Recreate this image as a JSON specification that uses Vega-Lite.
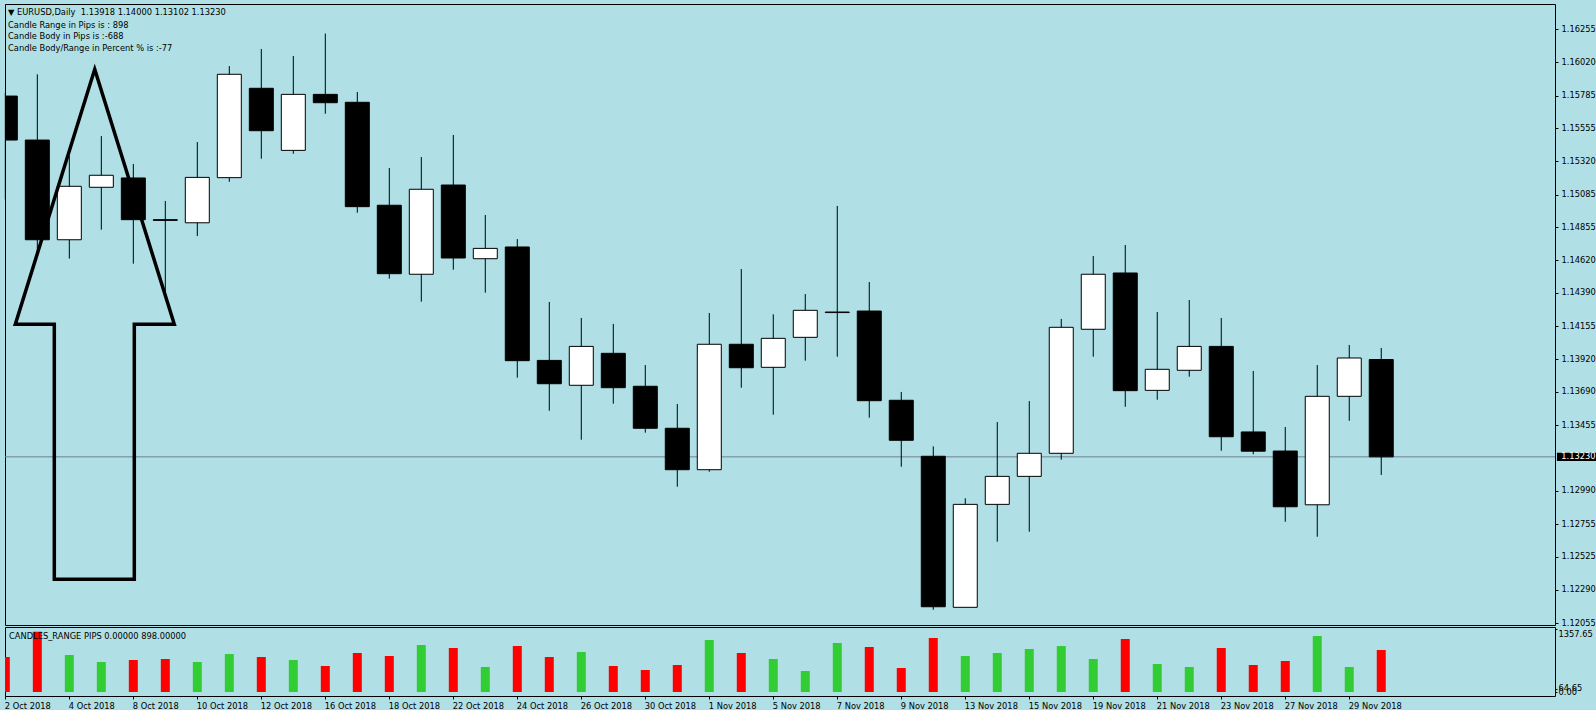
{
  "$schema": "https://vega.github.io/schema/vega-lite/v6.json",
  "background": "#B0E0E6",
  "padding": {"left": 3, "top": 3, "right": 0, "bottom": 0},
  "spacing": 2,
  "bounds": "flush",
  "resolve": {"scale": {"x": "independent", "y": "independent"}},
  "config": {
    "view": {"stroke": "#000000", "strokeWidth": 1},
    "font": "DejaVu Sans",
    "scale": {"continuousPadding": 0},
    "axis": {"labelFont": "DejaVu Sans", "labelFontSize": 8.3, "labelColor": "#000000", "tickColor": "#000000", "domain": false, "grid": false, "labelOverlap": false, "labelFlush": false, "labelBound": false},
    "title": {"font": "DejaVu Sans", "fontSize": 8.3, "fontWeight": "normal", "color": "#000000", "anchor": "start", "frame": "group", "subtitleFont": "DejaVu Sans", "subtitleFontSize": 8.3, "subtitleColor": "#000000"}
  },
  "datasets": {
    "candles": [
      {"d": "2 Oct 2018", "i": 0, "o": 1.15781, "h": 1.15806, "l": 1.15050, "c": 1.15470, "pips": 748},
      {"d": "3 Oct 2018", "i": 1, "o": 1.15470, "h": 1.15935, "l": 1.14650, "c": 1.14765, "pips": 1289},
      {"d": "4 Oct 2018", "i": 2, "o": 1.14765, "h": 1.15360, "l": 1.14632, "c": 1.15143, "pips": 791},
      {"d": "5 Oct 2018", "i": 3, "o": 1.15136, "h": 1.15498, "l": 1.14836, "c": 1.15221, "pips": 641},
      {"d": "8 Oct 2018", "i": 4, "o": 1.15202, "h": 1.15301, "l": 1.14596, "c": 1.14907, "pips": 684},
      {"d": "9 Oct 2018", "i": 5, "o": 1.14907, "h": 1.15039, "l": 1.14388, "c": 1.14902, "pips": 706},
      {"d": "10 Oct 2018", "i": 6, "o": 1.14885, "h": 1.15456, "l": 1.14791, "c": 1.15206, "pips": 641},
      {"d": "11 Oct 2018", "i": 7, "o": 1.15204, "h": 1.15993, "l": 1.15175, "c": 1.15935, "pips": 812},
      {"d": "12 Oct 2018", "i": 8, "o": 1.15836, "h": 1.16114, "l": 1.15338, "c": 1.15536, "pips": 748},
      {"d": "15 Oct 2018", "i": 9, "o": 1.15397, "h": 1.16064, "l": 1.15373, "c": 1.15793, "pips": 684},
      {"d": "16 Oct 2018", "i": 10, "o": 1.15793, "h": 1.16223, "l": 1.15656, "c": 1.15734, "pips": 556},
      {"d": "17 Oct 2018", "i": 11, "o": 1.15737, "h": 1.15810, "l": 1.14956, "c": 1.14999, "pips": 834},
      {"d": "18 Oct 2018", "i": 12, "o": 1.15009, "h": 1.15272, "l": 1.14490, "c": 1.14525, "pips": 770},
      {"d": "19 Oct 2018", "i": 13, "o": 1.14521, "h": 1.15350, "l": 1.14327, "c": 1.15122, "pips": 1005},
      {"d": "22 Oct 2018", "i": 14, "o": 1.15152, "h": 1.15506, "l": 1.14553, "c": 1.14636, "pips": 941},
      {"d": "23 Oct 2018", "i": 15, "o": 1.14631, "h": 1.14940, "l": 1.14391, "c": 1.14704, "pips": 535},
      {"d": "24 Oct 2018", "i": 16, "o": 1.14714, "h": 1.14770, "l": 1.13790, "c": 1.13910, "pips": 983},
      {"d": "25 Oct 2018", "i": 17, "o": 1.13912, "h": 1.14325, "l": 1.13556, "c": 1.13747, "pips": 748},
      {"d": "26 Oct 2018", "i": 18, "o": 1.13736, "h": 1.14212, "l": 1.13351, "c": 1.14011, "pips": 855},
      {"d": "29 Oct 2018", "i": 19, "o": 1.13962, "h": 1.14170, "l": 1.13606, "c": 1.13719, "pips": 556},
      {"d": "30 Oct 2018", "i": 20, "o": 1.13729, "h": 1.13879, "l": 1.13401, "c": 1.13432, "pips": 470},
      {"d": "31 Oct 2018", "i": 21, "o": 1.13432, "h": 1.13604, "l": 1.13019, "c": 1.13139, "pips": 577},
      {"d": "1 Nov 2018", "i": 22, "o": 1.13139, "h": 1.14247, "l": 1.13125, "c": 1.14026, "pips": 1112},
      {"d": "2 Nov 2018", "i": 23, "o": 1.14026, "h": 1.14558, "l": 1.13719, "c": 1.13860, "pips": 834},
      {"d": "5 Nov 2018", "i": 24, "o": 1.13863, "h": 1.14238, "l": 1.13528, "c": 1.14068, "pips": 706},
      {"d": "6 Nov 2018", "i": 25, "o": 1.14075, "h": 1.14381, "l": 1.13910, "c": 1.14266, "pips": 449},
      {"d": "7 Nov 2018", "i": 26, "o": 1.14250, "h": 1.15004, "l": 1.13938, "c": 1.14254, "pips": 1048},
      {"d": "8 Nov 2018", "i": 27, "o": 1.14261, "h": 1.14466, "l": 1.13507, "c": 1.13627, "pips": 962},
      {"d": "9 Nov 2018", "i": 28, "o": 1.13630, "h": 1.13689, "l": 1.13160, "c": 1.13347, "pips": 513},
      {"d": "12 Nov 2018", "i": 29, "o": 1.13234, "h": 1.13304, "l": 1.12149, "c": 1.12170, "pips": 1155},
      {"d": "13 Nov 2018", "i": 30, "o": 1.12166, "h": 1.12937, "l": 1.12164, "c": 1.12894, "pips": 770},
      {"d": "14 Nov 2018", "i": 31, "o": 1.12894, "h": 1.13476, "l": 1.12630, "c": 1.13092, "pips": 834},
      {"d": "15 Nov 2018", "i": 32, "o": 1.13092, "h": 1.13624, "l": 1.12701, "c": 1.13255, "pips": 919},
      {"d": "16 Nov 2018", "i": 33, "o": 1.13255, "h": 1.14205, "l": 1.13210, "c": 1.14146, "pips": 983},
      {"d": "19 Nov 2018", "i": 34, "o": 1.14132, "h": 1.14650, "l": 1.13938, "c": 1.14521, "pips": 706},
      {"d": "20 Nov 2018", "i": 35, "o": 1.14530, "h": 1.14728, "l": 1.13584, "c": 1.13698, "pips": 1133},
      {"d": "21 Nov 2018", "i": 36, "o": 1.13700, "h": 1.14254, "l": 1.13634, "c": 1.13849, "pips": 599},
      {"d": "22 Nov 2018", "i": 37, "o": 1.13842, "h": 1.14339, "l": 1.13797, "c": 1.14011, "pips": 535},
      {"d": "23 Nov 2018", "i": 38, "o": 1.14011, "h": 1.14212, "l": 1.13273, "c": 1.13372, "pips": 941},
      {"d": "26 Nov 2018", "i": 39, "o": 1.13406, "h": 1.13837, "l": 1.13248, "c": 1.13270, "pips": 577},
      {"d": "27 Nov 2018", "i": 40, "o": 1.13271, "h": 1.13441, "l": 1.12771, "c": 1.12877, "pips": 663},
      {"d": "28 Nov 2018", "i": 41, "o": 1.12891, "h": 1.13879, "l": 1.12665, "c": 1.13658, "pips": 1197},
      {"d": "29 Nov 2018", "i": 42, "o": 1.13658, "h": 1.14021, "l": 1.13485, "c": 1.13929, "pips": 535},
      {"d": "30 Nov 2018", "i": 43, "o": 1.13918, "h": 1.14000, "l": 1.13102, "c": 1.13230, "pips": 898}
    ],
    "arrow": [
      {"k": 0, "i": 2.794, "p": 1.15970},
      {"k": 1, "i": 5.281, "p": 1.14167},
      {"k": 2, "i": 4.031, "p": 1.14167},
      {"k": 3, "i": 4.031, "p": 1.12365},
      {"k": 4, "i": 1.531, "p": 1.12365},
      {"k": 5, "i": 1.531, "p": 1.14167},
      {"k": 6, "i": 0.3125, "p": 1.14167},
      {"k": 7, "i": 2.794, "p": 1.15970},
      {"k": 8, "i": 5.281, "p": 1.14167}
    ]
  },
  "vconcat": [
    {
      "width": 1550,
      "height": 621,
      "title": {
        "text": "▼ EURUSD,Daily\u00a0\u00a01.13918 1.14000 1.13102 1.13230",
        "subtitle": ["\u00a0\u00a0\u00a0Candle Range in Pips is : 898", "\u00a0\u00a0\u00a0Candle Body in Pips is :-688", "\u00a0\u00a0\u00a0Candle Body/Range in Percent % is :-77"],
        "offset": -48,
        "dx": 3,
        "baseline": "top",
        "subtitlePadding": 5,
        "subtitleLineHeight": 11.35
      },
      "data": {"name": "candles"},
      "layer": [
        {
          "data": {"values": [{}]},
          "mark": {"type": "rule", "color": "#708090", "strokeWidth": 1},
          "encoding": {"y": {"datum": 1.1323, "type": "quantitative"}}
        },
        {
          "mark": {"type": "rule", "color": "#000000", "strokeWidth": 1},
          "encoding": {
            "x": {"field": "i", "type": "quantitative", "title": null, "scale": {"domain": [-0.01, 48.43], "nice": false, "zero": false, "padding": 0}, "axis": null},
            "y": {"field": "l", "type": "quantitative", "title": null, "scale": {"domain": [1.12041, 1.16432], "nice": false, "zero": false, "padding": 0},
              "axis": {"orient": "right", "values": [1.16255, 1.1602, 1.15785, 1.15555, 1.1532, 1.15085, 1.14855, 1.1462, 1.1439, 1.14155, 1.1392, 1.1369, 1.13455, 1.1299, 1.12755, 1.12525, 1.1229, 1.12055], "tickCount": 40, "format": ".5f", "tickSize": 3, "labelPadding": 3, "labelOverlap": false, "labelFlush": false}},
            "y2": {"field": "h"}
          }
        },
        {
          "mark": {"type": "bar", "size": 24, "stroke": "#000000", "strokeWidth": 1, "clip": true},
          "encoding": {
            "x": {"field": "i", "type": "quantitative", "title": null},
            "y": {"field": "o", "type": "quantitative", "title": null},
            "y2": {"field": "c"},
            "fill": {"condition": {"test": "datum.c >= datum.o", "value": "#FFFFFF"}, "value": "#000000"}
          }
        },
        {
          "data": {"name": "arrow"},
          "mark": {"type": "line", "color": "#000000", "strokeWidth": 3.5, "strokeJoin": "miter", "clip": true},
          "encoding": {
            "x": {"field": "i", "type": "quantitative", "title": null},
            "y": {"field": "p", "type": "quantitative", "title": null},
            "order": {"field": "k", "type": "quantitative"}
          }
        },
        {
          "data": {"values": [{}]},
          "mark": {"type": "rect", "color": "#000000"},
          "encoding": {
            "x": {"datum": 48.49, "type": "quantitative"},
            "x2": {"datum": 49.75},
            "y": {"datum": 1.13259, "type": "quantitative"},
            "y2": {"datum": 1.132}
          }
        },
        {
          "data": {"values": [{}]},
          "mark": {"type": "text", "color": "#FFFFFF", "align": "left", "baseline": "middle", "font": "DejaVu Sans", "fontSize": 8.3},
          "encoding": {
            "x": {"datum": 48.625, "type": "quantitative"},
            "y": {"datum": 1.1323, "type": "quantitative"},
            "text": {"value": "1.13230"}
          }
        }
      ]
    },
    {
      "width": 1550,
      "height": 69,
      "title": {"text": "CANDLES_RANGE PIPS 0.00000 898.00000", "offset": -13, "dx": 4, "baseline": "top"},
      "data": {"name": "candles"},
      "mark": {"type": "bar", "size": 9, "clip": true},
      "encoding": {
        "x": {"field": "i", "type": "quantitative", "title": null, "scale": {"domain": [-0.01, 48.43], "nice": false, "zero": false, "padding": 0},
          "axis": {"values": [0, 2, 4, 6, 8, 10, 12, 14, 16, 18, 20, 22, 24, 26, 28, 30, 32, 34, 36, 38, 40, 42], "tickCount": 60,
            "labelExpr": "['2 Oct 2018','4 Oct 2018','8 Oct 2018','10 Oct 2018','12 Oct 2018','16 Oct 2018','18 Oct 2018','22 Oct 2018','24 Oct 2018','26 Oct 2018','30 Oct 2018','1 Nov 2018','5 Nov 2018','7 Nov 2018','9 Nov 2018','13 Nov 2018','15 Nov 2018','19 Nov 2018','21 Nov 2018','23 Nov 2018','27 Nov 2018','29 Nov 2018'][round(datum.value/2)]",
            "tickSize": 3, "labelAlign": "left", "labelPadding": 2, "labelOffset": -1, "labelOverlap": false, "labelFlush": false}},
        "y": {"field": "pips", "type": "quantitative", "title": null, "scale": {"domain": [-85.5, 1390], "nice": false, "zero": false, "padding": 0},
          "axis": {"orient": "right", "values": [0, 64.65, 1357.65], "tickCount": 10, "format": ".2f", "tickSize": 2, "labelPadding": 1, "labelOverlap": false, "labelFlush": false,
            "labelOffset": {"condition": {"test": "datum.value > 1000", "value": 6}, "value": 0}}},
        "y2": {"datum": 0},
        "color": {"condition": {"test": "datum.c >= datum.o", "value": "#32CD32"}, "value": "#FF0000"}
      }
    }
  ]
}
